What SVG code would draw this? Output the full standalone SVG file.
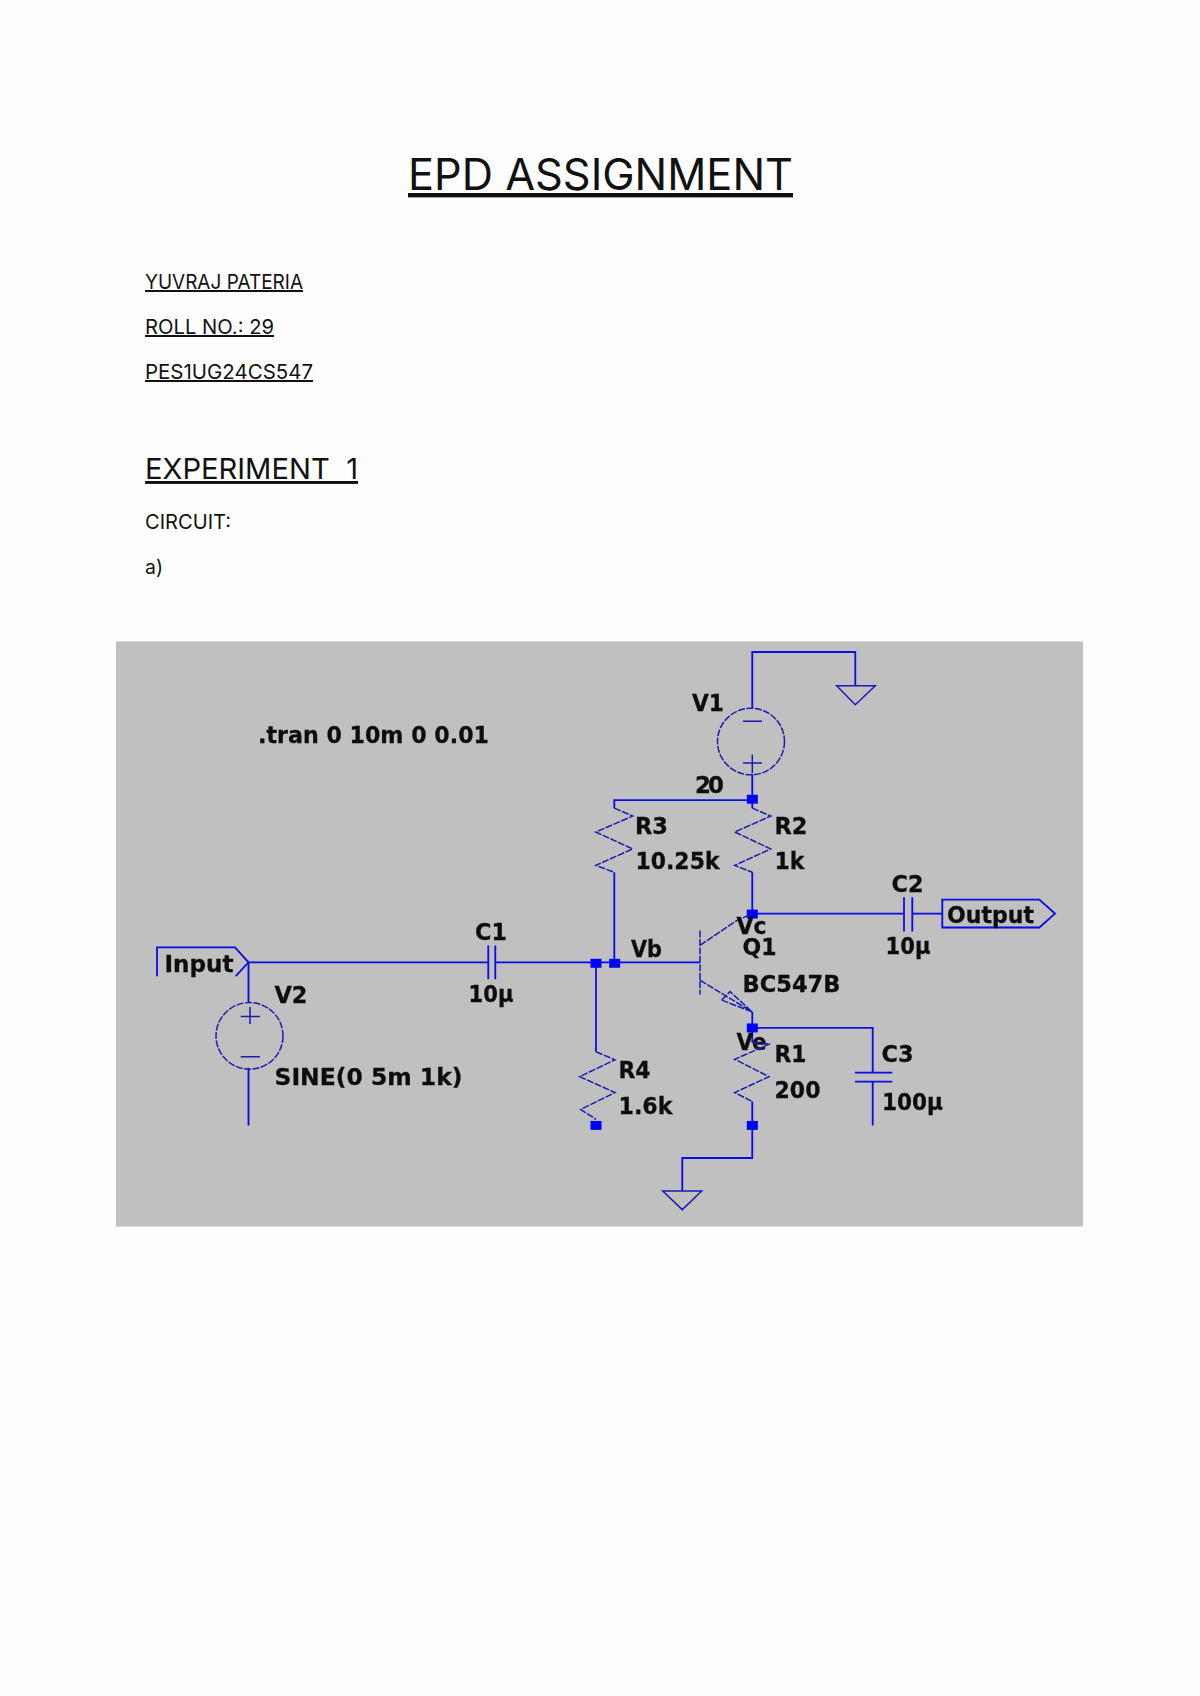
<svg xmlns="http://www.w3.org/2000/svg" width="1200" height="1696" viewBox="0 0 1200 1696">
<defs><filter id="soft" x="-5%" y="-5%" width="110%" height="110%"><feGaussianBlur stdDeviation="0.45"/></filter>
<rect id="n" x="-5.5" y="-4.5" width="11" height="9" fill="#0000ff"/></defs>
<style>
.doc{font-family:"Inter","Liberation Sans",sans-serif;fill:#111}
.u{text-decoration:underline}
.t{font-family:"DejaVu Sans","Liberation Sans",sans-serif;font-weight:700;font-size:23px;fill:#101010;stroke:#101010;stroke-width:.3}
.w{fill:none;stroke:#0a0ae6;stroke-width:1.8}
.c{fill:none;stroke:#1c1cb0;stroke-width:1.5}
.d{stroke-dasharray:7 1.5}
</style>
<rect width="1200" height="1696" fill="#fefefe"/>
<g id="heading">
<text class="doc u" x="408" y="190" font-size="44" textLength="385" lengthAdjust="spacingAndGlyphs">EPD ASSIGNMENT</text>
<text class="doc u" x="145" y="289" font-size="20" textLength="158" lengthAdjust="spacingAndGlyphs">YUVRAJ PATERIA</text>
<text class="doc u" x="145" y="334" font-size="20" textLength="129" lengthAdjust="spacingAndGlyphs">ROLL NO.: 29</text>
<text class="doc u" x="145" y="379" font-size="20" textLength="168" lengthAdjust="spacingAndGlyphs">PES1UG24CS547</text>
<text class="doc u" x="145" y="479" font-size="29" textLength="213" lengthAdjust="spacingAndGlyphs" xml:space="preserve">EXPERIMENT  1</text>
<text class="doc" x="145" y="529" font-size="20" textLength="86" lengthAdjust="spacingAndGlyphs">CIRCUIT:</text>
<text class="doc" x="145" y="574" font-size="20" textLength="18" lengthAdjust="spacingAndGlyphs">a)</text>
</g>
<rect id="panel" x="116" y="641.5" width="967" height="585" fill="#c0c0c0"/>
<g id="circuit" filter="url(#soft)" transform="translate(0,3.6) scale(1,0.9945)">
<g id="connectors">
<path class="w" d="M752.3 709V652H855.3V686"/>
<path class="w" d="M752.3 775V809M752.3 801H614.3V809"/>
<path class="w" d="M614.3 873.5V965M752.3 873.5V915"/>
<path class="w" d="M248.5 964H488.3M495.3 964H700"/>
<path class="w" d="M752.3 915H904M912.3 915H942.3"/>
<path class="w" d="M248.5 964V1005M248.5 1070V1128"/>
<path class="w" d="M596 965V1054"/>
<path class="w" d="M752.3 1014V1044.6M752.3 1104V1160.8H682.3V1194"/>
<path class="w" d="M752.3 1030H872.7V1075M872.7 1084V1128"/>
<use href="#n" x="752.3" y="800"/><use href="#n" x="752.3" y="915.5"/><use href="#n" x="752.3" y="1030"/><use href="#n" x="752.3" y="1128"/>
<use href="#n" x="614.7" y="965"/><use href="#n" x="596" y="965"/><use href="#n" x="596" y="1128"/>
</g>
<g id="V1"><circle class="c d" cx="751" cy="742" r="33.5"/><path class="c" d="M743 721.5H762M743 763.5H762M752.3 755V774"/><text class="t" x="692" y="711" textLength="32" lengthAdjust="spacingAndGlyphs">V1</text><text class="t" x="695" y="794" textLength="29">20</text></g>
<g id="GND1"><path class="c" d="M836.7 686H875.3L855.3 705Z"/></g>
<g id="R3"><path class="c d" d="M614.3 809L632.7 817L595.7 833L632.7 850L595.7 866.5L614.3 873.5"/><text class="t" x="635" y="835" textLength="33" lengthAdjust="spacingAndGlyphs">R3</text><text class="t" x="635.5" y="870" textLength="84" lengthAdjust="spacingAndGlyphs">10.25k</text></g>
<g id="R2"><path class="c d" d="M752.3 809L770.7 817L734.7 833L770.7 850L734.7 866.5L752.3 873.5"/><text class="t" x="774.5" y="835" textLength="33" lengthAdjust="spacingAndGlyphs">R2</text><text class="t" x="774.5" y="870" textLength="30" lengthAdjust="spacingAndGlyphs">1k</text></g>
<g id="C2"><path class="w" d="M904 898.5V933M912.3 898.5V933"/><text class="t" x="891.5" y="893.5" textLength="32" lengthAdjust="spacingAndGlyphs">C2</text><text class="t" x="885.5" y="956" textLength="45" lengthAdjust="spacingAndGlyphs">10µ</text></g>
<g id="Output"><path class="w" d="M942.3 901H1039.3L1055 915L1039.3 929H942.3Z"/><text class="t" x="947" y="924" textLength="87" lengthAdjust="spacingAndGlyphs">Output</text></g>
<g id="Q1"><path class="c d" d="M700 932V996.5M700 947L736.7 922L752.3 915M700 982L752.3 1014M721.7 1002L730 993.5L752.3 1014Z"/><text class="t" x="736.5" y="936" textLength="30" lengthAdjust="spacingAndGlyphs">Vc</text><text class="t" x="742.5" y="957" textLength="34" lengthAdjust="spacingAndGlyphs">Q1</text><text class="t" x="742.5" y="993.5" textLength="98" lengthAdjust="spacingAndGlyphs">BC547B</text></g>
<g id="Vb"><text class="t" x="631" y="959" textLength="31" lengthAdjust="spacingAndGlyphs">Vb</text></g>
<g id="Ve"><text class="t" x="736.5" y="1052" textLength="30" lengthAdjust="spacingAndGlyphs">Ve</text></g>
<g id="R1"><path class="c d" d="M752.3 1044.6L770 1046L734.7 1061.5L769 1079L734.7 1095L752.3 1104"/><text class="t" x="774.5" y="1064" textLength="32" lengthAdjust="spacingAndGlyphs">R1</text><text class="t" x="774.5" y="1100" textLength="46" lengthAdjust="spacingAndGlyphs">200</text></g>
<g id="C3"><path class="w" d="M855 1075H892.3M855 1084H892.3"/><text class="t" x="881.5" y="1064" textLength="32" lengthAdjust="spacingAndGlyphs">C3</text><text class="t" x="882" y="1112.5" textLength="61" lengthAdjust="spacingAndGlyphs">100µ</text></g>
<g id="GND2"><path class="c" d="M662.7 1194H701.7L682.3 1212.7Z"/></g>
<g id="R4"><path class="c d" d="M596 1054L615 1062L579.7 1079L615 1095L580.7 1112L596 1122"/><text class="t" x="618.5" y="1080" textLength="32" lengthAdjust="spacingAndGlyphs">R4</text><text class="t" x="618.5" y="1116.5" textLength="54" lengthAdjust="spacingAndGlyphs">1.6k</text></g>
<g id="C1"><path class="w" d="M488.3 947V981M495.3 947V981"/><text class="t" x="475" y="942" textLength="32" lengthAdjust="spacingAndGlyphs">C1</text><text class="t" x="468.5" y="1004" textLength="45" lengthAdjust="spacingAndGlyphs">10µ</text></g>
<g id="Input"><path class="w" d="M157 978V949H235L248.5 964L235.7 978"/><text class="t" x="164.5" y="973.5" textLength="69" lengthAdjust="spacingAndGlyphs">Input</text></g>
<g id="V2"><circle class="c d" cx="249.5" cy="1038" r="33.5"/><path class="c" d="M240.7 1018.5H260M250 1009V1026M240.7 1059H260"/><text class="t" x="274.5" y="1005" textLength="33" lengthAdjust="spacingAndGlyphs">V2</text><text class="t" x="274.5" y="1087.5" textLength="188" lengthAdjust="spacingAndGlyphs">SINE(0 5m 1k)</text></g>
<g id="directive"><text class="t" x="258" y="743.5" textLength="231" lengthAdjust="spacingAndGlyphs">.tran 0 10m 0 0.01</text></g>
</g>
</svg>
